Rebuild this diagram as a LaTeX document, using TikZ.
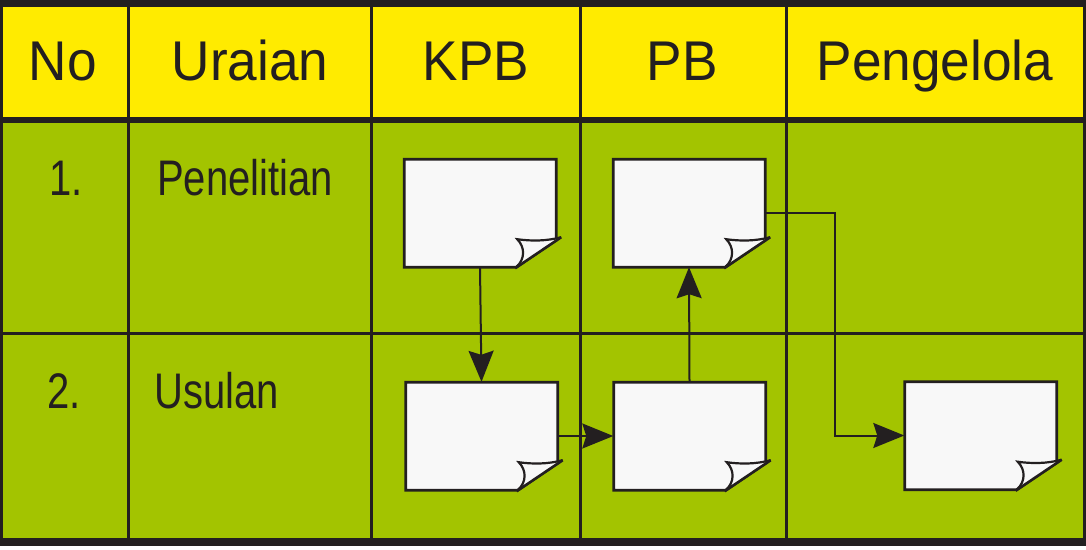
\documentclass[tikz,border=0pt]{standalone}
\usepackage{fontspec}
\setmainfont{Liberation Sans}
\newfontfamily\headfont[FakeStretch=0.95]{Liberation Sans}
\newfontfamily\rowfont[FakeStretch=0.8]{Liberation Sans}
\usetikzlibrary{arrows.meta}
\definecolor{ink}{HTML}{231F20}
\definecolor{headyellow}{HTML}{FFEB00}
\definecolor{bodygreen}{HTML}{A3C400}
\definecolor{paper}{HTML}{F8F8F8}
\tikzset{
	headtext/.style={anchor=base,inner sep=0,text=ink,font=\headfont\fontsize{56}{60}\selectfont},
	rowtext/.style={anchor=base,inner sep=0,text=ink,font=\rowfont\fontsize{50}{54}\selectfont},
	doc/.style={minimum width=152pt,minimum height=108pt,inner sep=0,draw=none},
	docline/.style={draw=ink,fill=paper,line width=2.8pt,line join=miter},
	flow/.style={draw=ink,line width=2pt,-{Stealth[length=31pt,width=25pt,inset=4pt]}}
}
\begin{document}
\begin{tikzpicture}[x=1pt,y=-1pt]
		\useasboundingbox (0,0) rectangle (1086,549);
		\fill[headyellow] (0,0) rectangle (1086,120);
		\fill[bodygreen] (0,120) rectangle (1086,546);
		\fill[white] (0,546) rectangle (1086,549);
		
		% grid
		\fill[ink] (0,0) rectangle (1086,7);
		\fill[ink] (0,117) rectangle (1086,123);
		\fill[ink] (0,331.5) rectangle (1086,334.5);
		\fill[ink] (0,538) rectangle (1086,546);
		\fill[ink] (0,0) rectangle (2.5,546);
		\fill[ink] (1083,0) rectangle (1086,546);
		\foreach \x in {128.5,371.5,580.5,786.5}
			\draw[ink,line width=3pt] (\x,0) -- (\x,546);
		
		\node[headtext] (hNo) at (63,80) {No};
		\node[headtext] (hUraian) at (250,80) {Uraian};
		\node[headtext] (hKPB) at (476,80) {KPB};
		\node[headtext] (hPB) at (682,80) {PB};
		\node[headtext] (hPengelola) at (935,80) {Pengelola};
		
		\node[rowtext] (n1) at (66,195) {1.};
		\node[rowtext,anchor=base west] (u1) at (157,195) {Penelitian};
		\node[rowtext] (n2) at (64,408) {2.};
		\node[rowtext,anchor=base west] (u2) at (154,408) {Usulan};
		
		\node[doc] (kpbA) at (480,213) {};
		\node[doc] (pbA) at (689,213) {};
		\node[doc] (kpbB) at (481.5,436) {};
		\node[doc] (pbB) at (689.5,436) {};
		\node[doc] (peng) at (980.5,435.5) {};
		
		% document sheets with turned corner
		\foreach \d in {kpbA,pbA,kpbB,pbB,peng}{
			\begin{scope}[shift={(\d.south east)}]
				\path[docline] (-152,-108) -- (0,-108) -- (0,-27) -- (-40,0) -- (-152,0) -- cycle;
				\path[docline,line width=2.2pt] (5,-30) .. controls (-10,-26) and (-25,-26) .. (-39,-28)
					.. controls (-31,-20) and (-31,-8) .. (-40,0);
				\draw[ink,line width=2.6pt] (-41,1) -- (5,-30);
			\end{scope}
		}
		
		\coordinate (bend) at (835,330);
		\draw[flow] (kpbA.south) -- (kpbB.north);
		\draw[flow] (kpbB.east) -- (pbB.west);
		\draw[flow] (pbB.north) -- (pbA.south);
		\draw[flow] (pbA.east) -| (bend) |- (peng.west);
		
		\end{tikzpicture}
\end{document}
